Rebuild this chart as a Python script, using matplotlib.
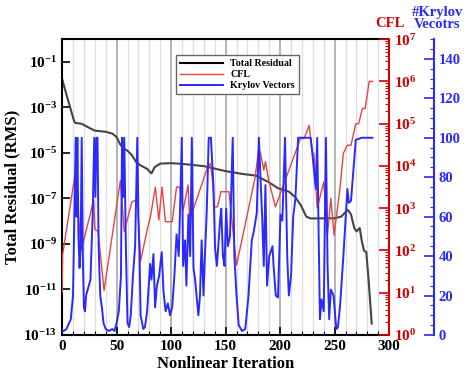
import matplotlib
matplotlib.use('Agg')
import matplotlib.pyplot as plt
import numpy as np
from matplotlib.ticker import MultipleLocator, FixedLocator, FixedFormatter, LogLocator, NullFormatter

plt.rcParams['font.family'] = 'Liberation Serif'
plt.rcParams['font.weight'] = 'bold'
plt.rcParams['mathtext.fontset'] = 'custom'
plt.rcParams['mathtext.rm'] = 'Liberation Serif:bold'
plt.rcParams['mathtext.it'] = 'Liberation Serif:bold'
plt.rcParams['mathtext.bf'] = 'Liberation Serif:bold'
plt.rcParams['mathtext.default'] = 'rm'

# total residual, log10 values
res_it = [0, 2, 5, 8, 11, 12, 18, 25, 30, 40, 46, 50, 53, 56, 60, 64, 68, 72, 78, 82, 85, 90,
          100, 110, 130, 150, 165, 178, 190, 198, 208, 214, 219, 224, 228, 250, 256, 262, 265,
          268, 270, 273, 275, 277, 279, 281, 284]
res_log = [-1.73, -2.1, -2.6, -3.1, -3.6, -3.68, -3.72, -3.9, -4.02, -4.07, -4.15, -4.3, -4.6,
           -4.8, -4.9, -5.1, -5.4, -5.55, -5.7, -5.9, -5.62, -5.47, -5.45, -5.48, -5.58, -5.8,
           -5.92, -6.0, -6.3, -6.55, -6.7, -6.95, -7.3, -7.8, -7.88, -7.87, -7.8, -7.5, -7.7,
           -8.3, -8.45, -8.3, -8.9, -9.3, -9.35, -10.5, -12.5]

# CFL, log10 values
cfl_it = [0, 0.5, 12, 17.5, 29, 30, 33, 38.5, 53.5, 57, 64, 69, 72, 78, 81, 85.6, 88.7, 91.7,
          94.8, 101, 105, 108, 111, 115.6, 117, 133.6, 136, 138, 139.5, 142.6, 145.6, 153, 160,
          177, 180.4, 182, 185, 186.5, 189.5, 195.7, 218.7, 222, 226.6, 229.6, 231, 234, 240,
          243.4, 246.5, 249.5, 255, 258, 261.7, 265, 269.4, 272, 275.5, 278, 281.7, 284.7]
cfl_log = [1.0, 1.9, 3.82, 2.0, 3.19, 2.5, 2.45, 1.05, 3.66, 2.45, 3.15, 3.2, 1.75, 2.48, 2.8,
           3.5, 2.72, 3.5, 2.68, 2.68, 3.5, 3.5, 2.95, 3.55, 2.72, 3.98, 4.06, 3.66, 3.03, 3.03,
           3.39, 3.39, 1.65, 3.72, 4.41, 4.3, 3.9, 4.1, 3.66, 3.03, 4.65, 4.65, 4.96, 4.3, 4.3,
           3.0, 3.62, 2.36, 3.23, 2.36, 3.5, 4.3, 4.49, 4.49, 5.0, 5.0, 5.36, 5.36, 6.0, 6.0]

# Krylov vectors
kry_it = [0, 4, 8, 10, 11.5, 12.5, 13.3, 14, 15, 16, 17, 18, 19, 20, 21, 22, 24, 26, 28, 29.5,
          30.5, 31.5, 32.5, 33.5, 35, 36.5, 38, 40, 43, 46, 48, 50, 52, 54, 55, 56, 57, 58.5, 60,
          61.5, 63, 65, 67, 69, 70, 71, 72, 74.5, 76, 78, 80.7, 82, 83.8, 85.3, 87, 89, 91.4, 93,
          95, 97, 99, 101, 103, 105, 107, 108.5, 109.8, 111, 112.8, 114, 115.9, 117.5, 119,
          120.5, 122, 125, 126.5, 128, 129.7, 131, 132.7, 134.5, 136.5, 138.8, 140.3, 142,
          144.9, 146, 147.5, 149, 150.5, 152, 154, 156.5, 158, 160, 162, 165, 168, 171, 174,
          176, 178.6, 180.5, 182, 183.5, 185, 186.5, 188, 190, 193, 194, 196, 198, 200.3, 202,
          204.5, 206.5, 208, 210, 212, 214, 216.5, 220, 224, 228, 229.6, 232.7, 234, 236.5,
          238, 240, 242, 243.5, 245, 246.5, 249, 251.5, 253, 255, 258, 261.7, 263, 265, 269.4,
          275, 284.7]
kry_val = [1.5, 3, 8, 20, 70, 100, 60, 100, 50, 34, 45, 100, 40, 14, 12, 20, 24, 28, 60, 100,
           70, 100, 100, 45, 20, 14, 6, 3, 2, 3, 2, 6, 12, 30, 100, 70, 100, 45, 6,
           4, 10, 30, 45, 100, 60, 42, 10, 3, 4, 12, 36, 28, 41, 14, 25, 30, 42, 22,
           12, 16, 10, 14, 30, 51, 40, 70, 100, 35, 48, 25, 61, 40, 100,
           34, 28, 10, 20, 48, 20, 40, 63, 100, 100, 76, 44, 35,
           58, 64, 40, 35, 64, 45, 50, 100, 40, 20, 5, 2, 3, 20, 48,
           53, 62, 100, 79, 60, 35, 76, 25, 40, 45, 35, 20, 19, 61, 58,
           100, 40, 20, 30, 60, 69, 100, 100, 100, 100, 92, 74, 100, 8,
           18, 12, 100, 35, 8, 23, 20, 3, 4, 15, 40, 74, 67, 68, 99,
           100, 100]

fig = plt.figure(figsize=(4.74, 3.73), dpi=100)
ax = fig.add_axes([0.131, 0.102, 0.69, 0.793])
ax2 = ax.twinx()
ax3 = ax.twinx()

red = '#d40000'
blue = '#2a2aff'

l1, = ax.plot(res_it, 10 ** np.array(res_log), color='#444444', lw=1.5)
l2, = ax2.plot(cfl_it, 10 ** np.array(cfl_log), color='#e4453f', lw=1.0)
l3, = ax3.plot(kry_it, kry_val, color=blue, lw=1.4)

ax.set_xlim(0, 300)
ax.set_yscale('log')
ax.set_ylim(1e-13, 1e0)
dec = [-13, -11, -9, -7, -5, -3, -1]
ax.yaxis.set_major_locator(FixedLocator([10.0 ** d for d in dec]))
ax.yaxis.set_major_formatter(FixedFormatter([r'$10^{%d}$' % d for d in dec]))
ax.yaxis.set_minor_locator(FixedLocator([]))
ax.xaxis.set_major_locator(MultipleLocator(50))
ax.xaxis.set_minor_locator(MultipleLocator(10))
ax.tick_params(axis='both', which='major', direction='in', length=6, width=1.2, labelsize=11)
ax.tick_params(axis='x', which='minor', direction='in', length=3, width=0.8)
ax.grid(axis='x', which='major', color='#a8a8a8', lw=1.2)
ax.grid(axis='x', which='minor', color='#dedede', lw=0.9)
ax.set_axisbelow(True)
for s in ['left', 'bottom', 'top']:
    ax.spines[s].set_linewidth(1.5)
ax.spines['right'].set_visible(False)
ax.set_xlabel('Nonlinear Iteration', fontsize=12, fontweight='bold', labelpad=2)
ax.set_ylabel('Total Residual (RMS)', fontsize=12, fontweight='bold', labelpad=2)

ax2.set_yscale('log')
ax2.set_ylim(1e0, 1e7)
ax2.yaxis.set_minor_locator(LogLocator(base=10, subs=np.arange(2, 10), numticks=20))
ax2.yaxis.set_minor_formatter(NullFormatter())
ax2.set_yticks([10.0 ** d for d in range(8)])
ax2.set_yticklabels([r'$10^{%d}$' % d for d in range(8)])
ax2.tick_params(axis='y', which='major', direction='in', length=7, width=1.2, colors=red,
                labelsize=11)
ax2.tick_params(axis='y', which='minor', direction='in', length=3, width=0.8, colors=red)
for s in ['left', 'bottom', 'top']:
    ax2.spines[s].set_visible(False)
ax2.spines['right'].set_color(red)
ax2.spines['right'].set_linewidth(1.5)

ax3.set_ylim(0, 150)
ax3.spines['right'].set_position(('outward', 32.4))
for s in ['left', 'bottom', 'top']:
    ax3.spines[s].set_visible(False)
ax3.spines['right'].set_color(blue)
ax3.spines['right'].set_linewidth(1.5)
ax3.yaxis.set_minor_locator(MultipleLocator(5))
ax3.set_yticks(np.arange(0, 141, 20))
ax3.tick_params(axis='y', which='major', direction='in', length=7, width=1.2, colors=blue,
                labelsize=10.5, pad=3)
ax3.tick_params(axis='y', which='minor', direction='in', length=3, width=0.8, colors=blue)

fig.text(0.822, 0.938, 'CFL', color=red, fontsize=10.5, fontweight='bold', ha='center',
         va='center')
fig.text(0.922, 0.95, '#Krylov\nVecotrs', color=blue, fontsize=10.5, fontweight='bold',
         ha='center', va='center', linespacing=0.95)

leg = ax3.legend([l1, l2, l3], ['Total Residual', 'CFL', 'Krylov Vectors'],
                 loc='upper left', bbox_to_anchor=(0.349, 0.946), fontsize=7.2,
                 fancybox=False, framealpha=1, edgecolor='#666666', handlelength=4.3,
                 borderpad=0.4, labelspacing=0.2, handletextpad=0.7, borderaxespad=0)
leg.get_frame().set_linewidth(1.0)
leg.legend_handles[0].set_color('black')

fig.savefig('out.png', dpi=100)
